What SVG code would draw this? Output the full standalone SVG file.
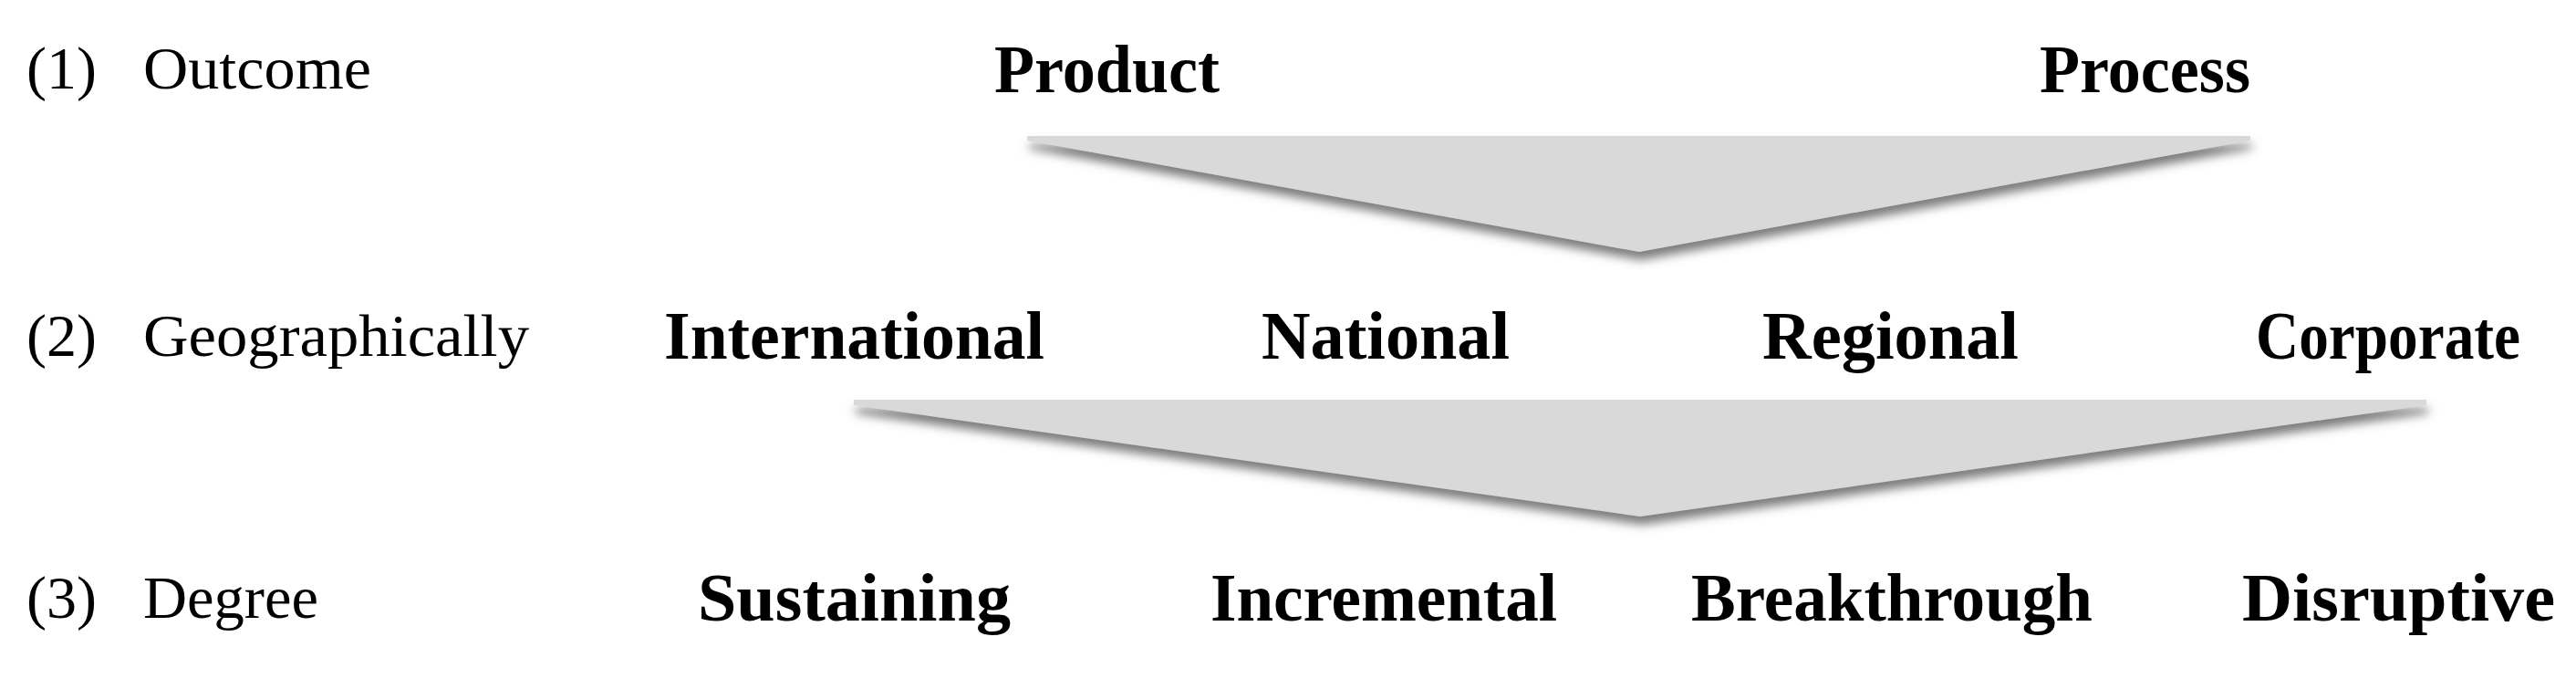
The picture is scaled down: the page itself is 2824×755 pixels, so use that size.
<svg xmlns="http://www.w3.org/2000/svg" width="2824" height="755" viewBox="0 0 2824 755">
<style>
.lbl{font-family:"Liberation Serif","Times New Roman",serif;font-size:66px;fill:#000}
.item{font-family:"Liberation Serif","Times New Roman",serif;font-size:74px;font-weight:bold;fill:#000}
.arrow{fill:#d9d9d9;filter:url(#shadow)}
</style>
<defs>
<filter id="shadow" x="-5%" y="-20%" width="110%" height="160%">
<feGaussianBlur in="SourceAlpha" stdDeviation="5.5"/>
<feOffset dx="2" dy="9" result="b"/>
<feFlood flood-color="#6e6e6e" flood-opacity="0.9"/>
<feComposite in2="b" operator="in"/>
<feMerge><feMergeNode/><feMergeNode in="SourceGraphic"/></feMerge>
</filter>
</defs>
<rect width="2824" height="755" fill="#fff"/>
<g id="connectors">
<polygon class="arrow" points="1126,149 2467,149 2467,154 1797,276 1126,154"/>
<polygon class="arrow" points="936,438 2660,438 2660,444 1798,566 936,444"/>
</g>
<g id="row1-label"><text class="lbl" x="29" y="97">(1)</text><text class="lbl" x="157" y="97" textLength="250" lengthAdjust="spacingAndGlyphs">Outcome</text></g>
<g id="row2-label"><text class="lbl" x="29" y="390">(2)</text><text class="lbl" x="157" y="390" textLength="423" lengthAdjust="spacingAndGlyphs">Geographically</text></g>
<g id="row3-label"><text class="lbl" x="29" y="677">(3)</text><text class="lbl" x="157" y="677" textLength="192" lengthAdjust="spacingAndGlyphs">Degree</text></g>
<g id="product"><text class="item" x="1090" y="101" textLength="247" lengthAdjust="spacingAndGlyphs">Product</text></g>
<g id="process"><text class="item" x="2236" y="101" textLength="231" lengthAdjust="spacingAndGlyphs">Process</text></g>
<g id="international"><text class="item" x="728" y="393" textLength="417" lengthAdjust="spacingAndGlyphs">International</text></g>
<g id="national"><text class="item" x="1383" y="393" textLength="272" lengthAdjust="spacingAndGlyphs">National</text></g>
<g id="regional"><text class="item" x="1932" y="393" textLength="281" lengthAdjust="spacingAndGlyphs">Regional</text></g>
<g id="corporate"><text class="item" x="2473" y="393" textLength="290" lengthAdjust="spacingAndGlyphs">Corporate</text></g>
<g id="sustaining"><text class="item" x="765" y="680" textLength="343" lengthAdjust="spacingAndGlyphs">Sustaining</text></g>
<g id="incremental"><text class="item" x="1327" y="680" textLength="380" lengthAdjust="spacingAndGlyphs">Incremental</text></g>
<g id="breakthrough"><text class="item" x="1854" y="680" textLength="440" lengthAdjust="spacingAndGlyphs">Breakthrough</text></g>
<g id="disruptive"><text class="item" x="2458" y="680" textLength="343" lengthAdjust="spacingAndGlyphs">Disruptive</text></g>
</svg>
